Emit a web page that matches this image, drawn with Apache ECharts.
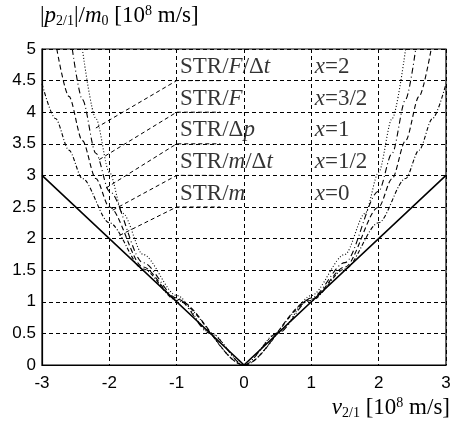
<!DOCTYPE html><html><head><meta charset="utf-8"><script src="https://cdn.jsdelivr.net/npm/echarts@6/dist/echarts.min.js"></script></head><body style="margin:0"><div id="c" style="width:474px;height:446px"></div><script>
const xTicks=[-3,-2,-1,0,1,2,3];
const vX2=[0,0.5,1,1.5,1.8,2,2.2,2.4];
const pX2=[0,0.51,1.1,1.75,2.4,3.05,3.9,5];
const vX15=[0,0.5,1,1.5,2,2.2,2.4,2.55];
const pX15=[0,0.5,1.06,1.62,2.75,3.35,4.2,5];
const vX1=[0,1,1.5,2,2.2,2.4,2.6,2.78];
const pX1=[0,1.04,1.55,2.5,2.95,3.55,4.25,5];
const vX05=[0,1,1.5,2,2.4,2.6,2.8,3];
const pX05=[0,1.02,1.52,2.25,2.95,3.4,3.9,4.45];
const vX0=[0,3];
const pX0=[0,3];
const labelsL=['STR/{i|F}/Δ{i|t}','STR/{i|F}','STR/Δ{i|p}','STR/{i|m}/Δ{i|t}','STR/{i|m}'];
const labelsR=['{i|x}=2','{i|x}=3/2','{i|x}=1','{i|x}=1/2','{i|x}=0'];
const labelY=[4.5,4.0,3.5,3.0,2.5];
const leaderEnd=[[-2.2,3.75],[-2.15,3.25],[-2.05,2.8],[-1.95,2.45],[-1.85,2.05]];
function sym(vs,ps){const a=[];for(let i=vs.length-1;i>0;i--)a.push([-vs[i],ps[i]]);for(let i=0;i<vs.length;i++)a.push([vs[i],ps[i]]);return a;}
const blk='#000';
function curve(vs,ps,type){return {type:'line',data:sym(vs,ps),smooth:type==='solid'?false:0.3,smoothMonotone:'x',showSymbol:false,lineStyle:{color:blk,width:type==='solid'?1.6:1.1,type:type},z:3};}
const series=[curve(vX2,pX2,[1,2]),curve(vX15,pX15,[6,3,1,3]),curve(vX1,pX1,[5,3]),curve(vX05,pX05,[4,2,1,2]),curve(vX0,pX0,'solid')];
const rich={i:{fontStyle:'italic',fontFamily:'Liberation Serif',fontSize:23,color:blk}};
labelY.forEach((y,k)=>{
 series.push({type:'line',data:[leaderEnd[k],[-1,y],[-0.35,y]],showSymbol:false,lineStyle:{color:blk,width:1,type:[4,3]},z:4});
 series.push({type:'scatter',data:[[-0.95,y+0.03]],symbolSize:0,label:{show:true,position:'right',distance:0,align:'left',verticalAlign:'bottom',formatter:labelsL[k],fontFamily:'Liberation Serif',fontSize:23,color:blk,rich:rich},z:5});
 series.push({type:'scatter',data:[[1.05,y+0.03]],symbolSize:0,label:{show:true,position:'right',distance:0,align:'left',verticalAlign:'bottom',formatter:labelsR[k],fontFamily:'Liberation Serif',fontSize:23,color:blk,rich:rich},z:5});
});
const ax={fontFamily:'Liberation Sans',fontSize:17,color:blk};
const gl={show:true,lineStyle:{color:blk,type:[4,3],width:1}};
echarts.init(document.getElementById('c')).setOption({animation:false,
grid:{left:42,right:28,top:49,bottom:81},
xAxis:{type:'value',min:-3,max:3,interval:1,axisLabel:Object.assign({margin:10},ax),axisLine:{onZero:false,lineStyle:{color:blk,width:1.2}},axisTick:{show:false},splitLine:gl},
yAxis:{type:'value',min:0,max:5,interval:0.5,axisLabel:Object.assign({margin:6},ax),axisLine:{show:true,onZero:false,lineStyle:{color:blk,width:1.2}},axisTick:{show:false},splitLine:gl},
graphic:[{type:'rect',shape:{x:42,y:49,width:404,height:316},style:{fill:'none',stroke:blk,lineWidth:1.2},z:10},
{type:'text',left:40,top:4,style:{text:'|{i|p}{s|2/1}|/{i|m}{s|0} [10{u|8} m/s]',font:'23px Liberation Serif',fill:blk,rich:{i:{fontStyle:'italic',fontSize:23,fontFamily:'Liberation Serif'},s:{fontSize:14,fontFamily:'Liberation Serif',padding:[10,0,0,0]},u:{fontSize:14,fontFamily:'Liberation Serif',padding:[0,0,10,0]}}}},
{type:'text',right:24,top:396,style:{text:'{i|v}{s|2/1} [10{u|8} m/s]',font:'23px Liberation Serif',fill:blk,rich:{i:{fontStyle:'italic',fontSize:23,fontFamily:'Liberation Serif'},s:{fontSize:14,fontFamily:'Liberation Serif',padding:[10,0,0,0]},u:{fontSize:14,fontFamily:'Liberation Serif',padding:[0,0,10,0]}}}}],
series:series});
</script></body></html>
